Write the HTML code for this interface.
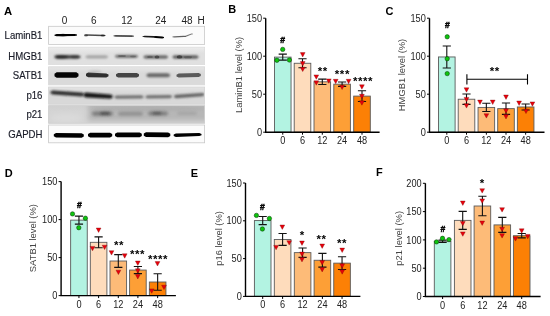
<!DOCTYPE html>
<html><head><meta charset="utf-8"><title>Figure</title>
<style>html,body{margin:0;padding:0;background:#fff;width:550px;height:316px;overflow:hidden}svg{display:block}</style>
</head><body>
<svg width="550" height="316" viewBox="0 0 550 316" font-family='&quot;Liberation Sans&quot;, Arial, sans-serif'>
<defs><linearGradient id="g0" x1="0" y1="0" x2="0" y2="1"><stop offset="0" stop-color="#fbfbfb"/><stop offset="0.35" stop-color="#fbfbfb"/><stop offset="1" stop-color="#fbfbfb"/></linearGradient><linearGradient id="g1" x1="0" y1="0" x2="0" y2="1"><stop offset="0" stop-color="#ececec"/><stop offset="0.35" stop-color="#e0e0e0"/><stop offset="1" stop-color="#e0e0e0"/></linearGradient><linearGradient id="g2" x1="0" y1="0" x2="0" y2="1"><stop offset="0" stop-color="#e6e6e6"/><stop offset="0.35" stop-color="#dadada"/><stop offset="1" stop-color="#dadada"/></linearGradient><linearGradient id="g3" x1="0" y1="0" x2="0" y2="1"><stop offset="0" stop-color="#e4e4e4"/><stop offset="0.35" stop-color="#d8d8d8"/><stop offset="1" stop-color="#d8d8d8"/></linearGradient><linearGradient id="g4" x1="0" y1="0" x2="0" y2="1"><stop offset="0" stop-color="#d0d0d0"/><stop offset="0.35" stop-color="#d4d4d4"/><stop offset="1" stop-color="#d4d4d4"/></linearGradient><linearGradient id="g5" x1="0" y1="0" x2="0" y2="1"><stop offset="0" stop-color="#fbfbfb"/><stop offset="0.35" stop-color="#fbfbfb"/><stop offset="1" stop-color="#fbfbfb"/></linearGradient><filter id="b0_5" filterUnits="userSpaceOnUse" x="0" y="0" width="550" height="316"><feGaussianBlur stdDeviation="0.5"/></filter><filter id="b0_55" filterUnits="userSpaceOnUse" x="0" y="0" width="550" height="316"><feGaussianBlur stdDeviation="0.55"/></filter><filter id="b0_6" filterUnits="userSpaceOnUse" x="0" y="0" width="550" height="316"><feGaussianBlur stdDeviation="0.6"/></filter><filter id="b0_8" filterUnits="userSpaceOnUse" x="0" y="0" width="550" height="316"><feGaussianBlur stdDeviation="0.8"/></filter><filter id="b0_9" filterUnits="userSpaceOnUse" x="0" y="0" width="550" height="316"><feGaussianBlur stdDeviation="0.9"/></filter><filter id="b1_0" filterUnits="userSpaceOnUse" x="0" y="0" width="550" height="316"><feGaussianBlur stdDeviation="1.0"/></filter><filter id="b1_6" filterUnits="userSpaceOnUse" x="0" y="0" width="550" height="316"><feGaussianBlur stdDeviation="1.6"/></filter><filter id="b2_5" filterUnits="userSpaceOnUse" x="0" y="0" width="550" height="316"><feGaussianBlur stdDeviation="2.5"/></filter><clipPath id="pc0"><rect x="49" y="26.7" width="155.2" height="17.3"/></clipPath><clipPath id="pc1"><rect x="49" y="47.6" width="155.2" height="16.6"/></clipPath><clipPath id="pc2"><rect x="49" y="67.2" width="155.2" height="17.3"/></clipPath><clipPath id="pc3"><rect x="49" y="87.4" width="155.2" height="16.5"/></clipPath><clipPath id="pc4"><rect x="49" y="106" width="155.2" height="16.9"/></clipPath><clipPath id="pc5"><rect x="49" y="125.4" width="155.2" height="17"/></clipPath></defs>
<rect width="550" height="316" fill="#fff"/>
<text transform="translate(3.9 14.9) scale(1.13 1.03)" font-size="10" font-weight="bold" fill="#000">A</text>
<rect x="48.6" y="26.3" width="156" height="18.1" fill="url(#g0)" stroke="#c8c8c8" stroke-width="0.8"/>
<text transform="translate(42.4 38.95) scale(1 1.1)" text-anchor="end" font-size="9.6" fill="#1a1c28" stroke="#1a1c28" stroke-width="0.15">LaminB1</text>
<rect x="48.6" y="47.2" width="156" height="17.4" fill="url(#g1)" stroke="#dcdcdc" stroke-width="0.8"/>
<text transform="translate(42.4 59.5) scale(1 1.1)" text-anchor="end" font-size="9.6" fill="#1a1c28" stroke="#1a1c28" stroke-width="0.15">HMGB1</text>
<rect x="48.6" y="66.8" width="156" height="18.1" fill="url(#g2)" stroke="#d8d8d8" stroke-width="0.8"/>
<text transform="translate(42.4 79.45) scale(1 1.1)" text-anchor="end" font-size="9.6" fill="#1a1c28" stroke="#1a1c28" stroke-width="0.15">SATB1</text>
<rect x="48.6" y="87" width="156" height="17.3" fill="url(#g3)" stroke="#d4d4d4" stroke-width="0.8"/>
<text transform="translate(42.4 99.25) scale(1 1.1)" text-anchor="end" font-size="9.6" fill="#1a1c28" stroke="#1a1c28" stroke-width="0.15">p16</text>
<rect x="48.6" y="105.6" width="156" height="17.7" fill="url(#g4)" stroke="#cccccc" stroke-width="0.8"/>
<text transform="translate(42.4 118.05) scale(1 1.1)" text-anchor="end" font-size="9.6" fill="#1a1c28" stroke="#1a1c28" stroke-width="0.15">p21</text>
<rect x="48.6" y="125" width="156" height="17.8" fill="url(#g5)" stroke="#c8c8c8" stroke-width="0.8"/>
<text transform="translate(42.4 137.5) scale(1 1.1)" text-anchor="end" font-size="9.6" fill="#1a1c28" stroke="#1a1c28" stroke-width="0.15">GAPDH</text>
<g clip-path="url(#pc0)">
<path d="M54.5 34.71 L56.7 34.1 L74.8 34 L77 34.55 L77 35.45 L74.8 36 L56.7 36.3 L54.5 35.7Z" fill="#000" fill-opacity="1" filter="url(#b0_5)"/>
<ellipse cx="63" cy="35.1" rx="6" ry="1.3" fill="#000" fill-opacity="0.6" filter="url(#b0_5)"/>
<path d="M84.5 34.62 L86.7 34.15 L103.3 34.7 L105.5 35.14 L105.5 35.86 L103.3 36.3 L86.7 35.85 L84.5 35.38Z" fill="#2a2a2a" fill-opacity="0.85" filter="url(#b0_5)"/>
<ellipse cx="86" cy="35.4" rx="2" ry="1" fill="#000" fill-opacity="0.5" filter="url(#b0_5)"/>
<ellipse cx="103" cy="35.6" rx="2.5" ry="1" fill="#000" fill-opacity="0.5" filter="url(#b0_5)"/>
<path d="M113.5 35.42 L115.7 34.95 L131.8 35.35 L134 35.82 L134 36.58 L131.8 37.05 L115.7 36.65 L113.5 36.18Z" fill="#2a2a2a" fill-opacity="0.85" filter="url(#b0_5)"/>
<path d="M142.5 36.14 L144.7 35.7 L153.8 36 L156 36.49 L156 37.3 L153.8 37.8 L144.7 37.3 L142.5 36.86Z" fill="#111" fill-opacity="0.95" filter="url(#b0_5)"/>
<path d="M154 36.51 L155.67 35.9 L162.33 36.5 L164 37.05 L164 37.95 L162.33 38.5 L155.67 38.1 L154 37.49Z" fill="#000" fill-opacity="1" filter="url(#b0_5)"/>
<path d="M172.5 36.61 L174.7 36.25 L183.8 35.65 L186 36.01 L186 36.59 L183.8 36.95 L174.7 37.55 L172.5 37.19Z" fill="#3a3a3a" fill-opacity="0.8" filter="url(#b0_5)"/>
<path d="M184 36.13 L185.5 35.8 L191.5 33.5 L193 33.77 L193 34.23 L191.5 34.5 L185.5 37 L184 36.67Z" fill="#4a4a4a" fill-opacity="0.75" filter="url(#b0_5)"/>
</g>
<g clip-path="url(#pc1)">
<path d="M54.5 56.05 L56.7 55 L78.3 55.2 L80.5 56.13 L80.5 57.66 L78.3 58.6 L56.7 58.8 L54.5 57.75Z" fill="#2a2a2a" fill-opacity="0.88" filter="url(#b0_8)"/>
<ellipse cx="62" cy="57" rx="6" ry="1.5" fill="#000" fill-opacity="0.45" filter="url(#b0_8)"/>
<ellipse cx="75" cy="57" rx="4" ry="1.4" fill="#111" fill-opacity="0.3" filter="url(#b0_8)"/>
<path d="M85.5 56.18 L87.7 55.3 L105.8 55.3 L108 56.18 L108 57.62 L105.8 58.5 L87.7 58.5 L85.5 57.62Z" fill="#8c8c8c" fill-opacity="0.7" filter="url(#b0_9)"/>
<path d="M115 55.58 L117.2 54.7 L135.8 54.7 L138 55.58 L138 57.02 L135.8 57.9 L117.2 57.9 L115 57.02Z" fill="#5a5a5a" fill-opacity="0.8" filter="url(#b0_9)"/>
<ellipse cx="122" cy="55.9" rx="4" ry="1" fill="#333" fill-opacity="0.4" filter="url(#b0_6)"/>
<ellipse cx="133" cy="56.5" rx="3" ry="1" fill="#333" fill-opacity="0.3" filter="url(#b0_6)"/>
<path d="M143.5 56.23 L145.7 55.3 L165.8 55.3 L168 56.23 L168 57.77 L165.8 58.7 L145.7 58.7 L143.5 57.77Z" fill="#505050" fill-opacity="0.82" filter="url(#b0_9)"/>
<ellipse cx="157" cy="56.9" rx="2.4" ry="1.5" fill="#111" fill-opacity="0.5" filter="url(#b0_6)"/>
<ellipse cx="150" cy="56.9" rx="3" ry="1.2" fill="#222" fill-opacity="0.3" filter="url(#b0_6)"/>
<path d="M172.5 56.19 L174.7 55.2 L196.3 55.2 L198.5 56.19 L198.5 57.81 L196.3 58.8 L174.7 58.8 L172.5 57.81Z" fill="#444" fill-opacity="0.82" filter="url(#b0_9)"/>
<ellipse cx="179.5" cy="56.9" rx="2.8" ry="1.7" fill="#111" fill-opacity="0.55" filter="url(#b0_6)"/>
<ellipse cx="188" cy="57.2" rx="4" ry="1.3" fill="#222" fill-opacity="0.3" filter="url(#b0_6)"/>
</g>
<g clip-path="url(#pc2)">
<path d="M54.5 73.74 L56.7 72.2 L76.3 72.2 L78.5 73.74 L78.5 76.26 L76.3 77.8 L56.7 77.8 L54.5 76.26Z" fill="#050505" fill-opacity="1" filter="url(#b0_85)"/>
<path d="M86 73.87 L88.2 72.6 L106.3 73.4 L108.5 74.5 L108.5 76.3 L106.3 77.4 L88.2 77.2 L86 75.94Z" fill="#1c1c1c" fill-opacity="0.9" filter="url(#b0_85)"/>
<ellipse cx="95" cy="71.8" rx="7" ry="1.3" fill="#777" fill-opacity="0.35" filter="url(#b1_0)"/>
<path d="M116 74.21 L118.2 73 L136.8 73 L139 74.21 L139 76.19 L136.8 77.4 L118.2 77.4 L116 76.19Z" fill="#303030" fill-opacity="0.88" filter="url(#b0_85)"/>
<path d="M146.5 74.4 L148.7 73.3 L167.8 73.3 L170 74.4 L170 76.2 L167.8 77.3 L148.7 77.3 L146.5 76.2Z" fill="#4e4e4e" fill-opacity="0.82" filter="url(#b0_9)"/>
<path d="M176.5 74.7 L178.7 73.6 L198.6 73 L200.8 74.1 L200.8 75.9 L198.6 77 L178.7 77.6 L176.5 76.5Z" fill="#444" fill-opacity="0.85" filter="url(#b0_85)"/>
</g>
<g clip-path="url(#pc3)">
<path d="M50.5 91.5 L52.7 90.4 L81.8 92.6 L84 93.64 L84 95.36 L81.8 96.4 L52.7 94.4 L50.5 93.3Z" fill="#1e1e1e" fill-opacity="0.9" filter="url(#b0_8)"/>
<path d="M83.5 93.92 L85.7 92.6 L110.5 94.4 L112.7 95.61 L112.7 97.59 L110.5 98.8 L85.7 97.4 L83.5 96.08Z" fill="#111" fill-opacity="0.95" filter="url(#b0_8)"/>
<path d="M114.5 96.33 L116.7 95.4 L141.3 95.2 L143.5 96.14 L143.5 97.67 L141.3 98.6 L116.7 98.8 L114.5 97.86Z" fill="#555" fill-opacity="0.8" filter="url(#b0_9)"/>
<path d="M145.5 96.14 L147.7 95.2 L169.8 94.9 L172 95.83 L172 97.36 L169.8 98.3 L147.7 98.6 L145.5 97.67Z" fill="#555" fill-opacity="0.8" filter="url(#b0_9)"/>
<path d="M174 95.73 L176.2 94.8 L202.3 92.9 L204.5 93.83 L204.5 95.36 L202.3 96.3 L176.2 98.2 L174 97.27Z" fill="#4a4a4a" fill-opacity="0.82" filter="url(#b0_9)"/>
</g>
<g clip-path="url(#pc4)">
<rect x="88" y="103" width="122" height="18" fill="#a4a4a4" fill-opacity="0.6" filter="url(#b2_5)"/>
<ellipse cx="66" cy="118" rx="16" ry="4" fill="#e8e8e8" fill-opacity="0.35" filter="url(#b2_5)"/>
<ellipse cx="150" cy="108.5" rx="55" ry="3" fill="#a0a0a0" fill-opacity="0.3" filter="url(#b1_6)"/>
<path d="M92 112.61 L94.2 111.4 L110.8 111.4 L113 112.61 L113 114.59 L110.8 115.8 L94.2 115.8 L92 114.59Z" fill="#5a5a5a" fill-opacity="0.65" filter="url(#b1_6)"/>
<ellipse cx="105" cy="113.4" rx="5" ry="1.8" fill="#333" fill-opacity="0.5" filter="url(#b1_0)"/>
<path d="M118 112.9 L120.2 111.8 L140.8 111.8 L143 112.9 L143 114.7 L140.8 115.8 L120.2 115.8 L118 114.7Z" fill="#6a6a6a" fill-opacity="0.5" filter="url(#b1_6)"/>
<path d="M148 112.56 L150.2 111.4 L165.8 111.4 L168 112.56 L168 114.44 L165.8 115.6 L150.2 115.6 L148 114.44Z" fill="#555" fill-opacity="0.6" filter="url(#b1_6)"/>
<ellipse cx="157" cy="113.2" rx="4.5" ry="1.6" fill="#333" fill-opacity="0.45" filter="url(#b1_0)"/>
<path d="M177 112.64 L179.2 111.7 L194.8 111.7 L197 112.64 L197 114.17 L194.8 115.1 L179.2 115.1 L177 114.17Z" fill="#888" fill-opacity="0.4" filter="url(#b1_6)"/>
</g>
<g clip-path="url(#pc5)">
<path d="M53.8 134.27 L56 133 L81.6 133.3 L83.8 134.51 L83.8 136.49 L81.6 137.7 L56 137.6 L53.8 136.34Z" fill="#000" fill-opacity="1" filter="url(#b0_55)"/>
<path d="M88 134.02 L90.2 132.7 L110 132.7 L112.2 134.02 L112.2 136.18 L110 137.5 L90.2 137.5 L88 136.18Z" fill="#000" fill-opacity="1" filter="url(#b0_55)"/>
<path d="M115 133.87 L117.2 132.6 L139.6 132.6 L141.8 133.87 L141.8 135.94 L139.6 137.2 L117.2 137.2 L115 135.94Z" fill="#000" fill-opacity="1" filter="url(#b0_55)"/>
<path d="M143.8 133.52 L146 132.2 L168.1 132.6 L170.3 133.87 L170.3 135.94 L168.1 137.2 L146 137 L143.8 135.68Z" fill="#000" fill-opacity="1" filter="url(#b0_55)"/>
<path d="M173.7 134.49 L175.9 133.5 L199.3 133.1 L201.5 133.92 L201.5 135.28 L199.3 136.1 L175.9 137.1 L173.7 136.11Z" fill="#050505" fill-opacity="1" filter="url(#b0_55)"/>
</g>
<text x="64.6" y="23.6" text-anchor="middle" font-size="10" fill="#222">0</text>
<text x="93.8" y="23.6" text-anchor="middle" font-size="10" fill="#222">6</text>
<text x="126.7" y="23.6" text-anchor="middle" font-size="10" fill="#222">12</text>
<text x="160.7" y="23.6" text-anchor="middle" font-size="10" fill="#222">24</text>
<text x="187" y="23.6" text-anchor="middle" font-size="10" fill="#222">48</text>
<text x="201" y="23.6" text-anchor="middle" font-size="10" fill="#222">H</text>
<rect x="274.45" y="57.11" width="16.6" height="75.09" fill="#b3f3e2" stroke="#5a5a5a" stroke-width="0.9"/>
<rect x="294.2" y="63.27" width="16.6" height="68.93" fill="#fedcbc" stroke="#5a5a5a" stroke-width="0.9"/>
<rect x="314" y="81.81" width="16.6" height="50.39" fill="#fdbb78" stroke="#5a5a5a" stroke-width="0.9"/>
<rect x="333.8" y="84.17" width="16.6" height="48.03" fill="#fd9f36" stroke="#5a5a5a" stroke-width="0.9"/>
<rect x="353.7" y="96.1" width="16.6" height="36.1" fill="#fc8005" stroke="#5a5a5a" stroke-width="0.9"/>
<path d="M282.75 54.11V60.11M278.65 54.11H286.85M278.65 60.11H286.85" stroke="#111" stroke-width="1.1" fill="none"/>
<path d="M302.5 58.77V67.77M298.4 58.77H306.6M298.4 67.77H306.6" stroke="#111" stroke-width="1.1" fill="none"/>
<path d="M322.3 79.11V84.51M318.2 79.11H326.4M318.2 84.51H326.4" stroke="#111" stroke-width="1.1" fill="none"/>
<path d="M342.1 81.97V86.37M338 81.97H346.2M338 86.37H346.2" stroke="#111" stroke-width="1.1" fill="none"/>
<path d="M362 90.7V101.5M357.9 90.7H366.1M357.9 101.5H366.1" stroke="#111" stroke-width="1.1" fill="none"/>
<circle cx="282.7" cy="49.4" r="2.2" fill="#0ec40e" stroke="#043004" stroke-width="0.5"/>
<circle cx="276.9" cy="60.3" r="2.2" fill="#0ec40e" stroke="#043004" stroke-width="0.5"/>
<circle cx="289.4" cy="60" r="2.2" fill="#0ec40e" stroke="#043004" stroke-width="0.5"/>
<path d="M300.3 52.6L305.1 52.6L302.7 57Z" fill="#e8000b" stroke="#7a0000" stroke-width="0.35"/>
<path d="M300.3 61.6L305.1 61.6L302.7 66Z" fill="#e8000b" stroke="#7a0000" stroke-width="0.35"/>
<path d="M300.3 67.2L305.1 67.2L302.7 71.6Z" fill="#e8000b" stroke="#7a0000" stroke-width="0.35"/>
<path d="M313.9 74.9L318.7 74.9L316.3 79.3Z" fill="#e8000b" stroke="#7a0000" stroke-width="0.35"/>
<path d="M313.9 80.8L318.7 80.8L316.3 85.2Z" fill="#e8000b" stroke="#7a0000" stroke-width="0.35"/>
<path d="M326.4 78.9L331.2 78.9L328.8 83.3Z" fill="#e8000b" stroke="#7a0000" stroke-width="0.35"/>
<path d="M333.3 79.3L338.1 79.3L335.7 83.7Z" fill="#e8000b" stroke="#7a0000" stroke-width="0.35"/>
<path d="M346.2 79.3L351 79.3L348.6 83.7Z" fill="#e8000b" stroke="#7a0000" stroke-width="0.35"/>
<path d="M339.7 85.2L344.5 85.2L342.1 89.6Z" fill="#e8000b" stroke="#7a0000" stroke-width="0.35"/>
<path d="M359.5 84.8L364.3 84.8L361.9 89.2Z" fill="#e8000b" stroke="#7a0000" stroke-width="0.35"/>
<path d="M359.5 94.3L364.3 94.3L361.9 98.7Z" fill="#e8000b" stroke="#7a0000" stroke-width="0.35"/>
<path d="M359.5 100.8L364.3 100.8L361.9 105.2Z" fill="#e8000b" stroke="#7a0000" stroke-width="0.35"/>
<path d="M265.7 18.2V132.2H379.6" stroke="#000" stroke-width="1.4" fill="none"/>
<path d="M263.2 132.2H265.7" stroke="#000" stroke-width="1"/>
<text transform="translate(262 135.8) scale(1 1.22)" text-anchor="end" font-size="9.2" fill="#222">0</text>
<path d="M263.2 94.2H265.7" stroke="#000" stroke-width="1"/>
<text transform="translate(262 97.8) scale(1 1.22)" text-anchor="end" font-size="9.2" fill="#222">50</text>
<path d="M263.2 56.2H265.7" stroke="#000" stroke-width="1"/>
<text transform="translate(262 59.8) scale(1 1.22)" text-anchor="end" font-size="9.2" fill="#222">100</text>
<path d="M263.2 18.2H265.7" stroke="#000" stroke-width="1"/>
<text transform="translate(262 21.8) scale(1 1.22)" text-anchor="end" font-size="9.2" fill="#222">150</text>
<path d="M282.75 132.2V134.7" stroke="#000" stroke-width="1"/>
<text transform="translate(282.75 143.9) scale(1 1.22)" text-anchor="middle" font-size="9.2" fill="#222">0</text>
<path d="M302.5 132.2V134.7" stroke="#000" stroke-width="1"/>
<text transform="translate(302.5 143.9) scale(1 1.22)" text-anchor="middle" font-size="9.2" fill="#222">6</text>
<path d="M322.3 132.2V134.7" stroke="#000" stroke-width="1"/>
<text transform="translate(322.3 143.9) scale(1 1.22)" text-anchor="middle" font-size="9.2" fill="#222">12</text>
<path d="M342.1 132.2V134.7" stroke="#000" stroke-width="1"/>
<text transform="translate(342.1 143.9) scale(1 1.22)" text-anchor="middle" font-size="9.2" fill="#222">24</text>
<path d="M362 132.2V134.7" stroke="#000" stroke-width="1"/>
<text transform="translate(362 143.9) scale(1 1.22)" text-anchor="middle" font-size="9.2" fill="#222">48</text>
<text transform="translate(241.6 74.9) rotate(-90)" text-anchor="middle" font-size="9.4" fill="#444">LaminB1 level (%)</text>
<text transform="translate(228.2 13.2) scale(1.1 1.03)" font-size="10" font-weight="bold" fill="#000">B</text>
<text transform="translate(282.7 43) scale(1 1.15)" text-anchor="middle" font-size="8.6" font-weight="bold" fill="#000" stroke="#000" stroke-width="0.45">#</text>
<text x="322.77" y="74.6" text-anchor="middle" font-size="11.5" font-weight="bold" letter-spacing="0.55" fill="#000">**</text>
<text x="342.37" y="77.9" text-anchor="middle" font-size="11.5" font-weight="bold" letter-spacing="0.55" fill="#000">***</text>
<text x="363.07" y="84.7" text-anchor="middle" font-size="11.5" font-weight="bold" letter-spacing="0.55" fill="#000">****</text>
<rect x="438.5" y="56.96" width="16.6" height="75.24" fill="#b3f3e2" stroke="#5a5a5a" stroke-width="0.9"/>
<rect x="458.2" y="99.22" width="16.6" height="32.98" fill="#fedcbc" stroke="#5a5a5a" stroke-width="0.9"/>
<rect x="478.05" y="107.42" width="16.6" height="24.78" fill="#fdbb78" stroke="#5a5a5a" stroke-width="0.9"/>
<rect x="497.7" y="108.64" width="16.6" height="23.56" fill="#fd9f36" stroke="#5a5a5a" stroke-width="0.9"/>
<rect x="517.35" y="106.97" width="16.6" height="25.23" fill="#fc8005" stroke="#5a5a5a" stroke-width="0.9"/>
<path d="M446.8 45.96V67.96M442.7 45.96H450.9M442.7 67.96H450.9" stroke="#111" stroke-width="1.1" fill="none"/>
<path d="M466.5 94.02V104.42M462.4 94.02H470.6M462.4 104.42H470.6" stroke="#111" stroke-width="1.1" fill="none"/>
<path d="M486.35 103.32V111.52M482.25 103.32H490.45M482.25 111.52H490.45" stroke="#111" stroke-width="1.1" fill="none"/>
<path d="M506 102.94V114.34M501.9 102.94H510.1M501.9 114.34H510.1" stroke="#111" stroke-width="1.1" fill="none"/>
<path d="M525.65 103.97V109.97M521.55 103.97H529.75M521.55 109.97H529.75" stroke="#111" stroke-width="1.1" fill="none"/>
<circle cx="447.2" cy="36.8" r="2.2" fill="#0ec40e" stroke="#043004" stroke-width="0.5"/>
<circle cx="447.2" cy="58.7" r="2.2" fill="#0ec40e" stroke="#043004" stroke-width="0.5"/>
<circle cx="447.2" cy="73.6" r="2.2" fill="#0ec40e" stroke="#043004" stroke-width="0.5"/>
<path d="M464.1 87.8L468.9 87.8L466.5 92.2Z" fill="#e8000b" stroke="#7a0000" stroke-width="0.35"/>
<path d="M464.1 97.4L468.9 97.4L466.5 101.8Z" fill="#e8000b" stroke="#7a0000" stroke-width="0.35"/>
<path d="M464.1 103.7L468.9 103.7L466.5 108.1Z" fill="#e8000b" stroke="#7a0000" stroke-width="0.35"/>
<path d="M477.6 100.1L482.4 100.1L480 104.5Z" fill="#e8000b" stroke="#7a0000" stroke-width="0.35"/>
<path d="M490.3 100.1L495.1 100.1L492.7 104.5Z" fill="#e8000b" stroke="#7a0000" stroke-width="0.35"/>
<path d="M484 113.7L488.8 113.7L486.4 118.1Z" fill="#e8000b" stroke="#7a0000" stroke-width="0.35"/>
<path d="M503.6 95L508.4 95L506 99.4Z" fill="#e8000b" stroke="#7a0000" stroke-width="0.35"/>
<path d="M503.6 108.8L508.4 108.8L506 113.2Z" fill="#e8000b" stroke="#7a0000" stroke-width="0.35"/>
<path d="M503.6 114.6L508.4 114.6L506 119Z" fill="#e8000b" stroke="#7a0000" stroke-width="0.35"/>
<path d="M516.7 101L521.5 101L519.1 105.4Z" fill="#e8000b" stroke="#7a0000" stroke-width="0.35"/>
<path d="M530 101.9L534.8 101.9L532.4 106.3Z" fill="#e8000b" stroke="#7a0000" stroke-width="0.35"/>
<path d="M523.6 109.2L528.4 109.2L526 113.6Z" fill="#e8000b" stroke="#7a0000" stroke-width="0.35"/>
<path d="M429.5 18.2V132.2H544.5" stroke="#000" stroke-width="1.4" fill="none"/>
<path d="M427 132.2H429.5" stroke="#000" stroke-width="1"/>
<text transform="translate(425.8 135.8) scale(1 1.22)" text-anchor="end" font-size="9.2" fill="#222">0</text>
<path d="M427 94.2H429.5" stroke="#000" stroke-width="1"/>
<text transform="translate(425.8 97.8) scale(1 1.22)" text-anchor="end" font-size="9.2" fill="#222">50</text>
<path d="M427 56.2H429.5" stroke="#000" stroke-width="1"/>
<text transform="translate(425.8 59.8) scale(1 1.22)" text-anchor="end" font-size="9.2" fill="#222">100</text>
<path d="M427 18.2H429.5" stroke="#000" stroke-width="1"/>
<text transform="translate(425.8 21.8) scale(1 1.22)" text-anchor="end" font-size="9.2" fill="#222">150</text>
<path d="M446.8 132.2V134.7" stroke="#000" stroke-width="1"/>
<text transform="translate(446.8 143.9) scale(1 1.22)" text-anchor="middle" font-size="9.2" fill="#222">0</text>
<path d="M466.5 132.2V134.7" stroke="#000" stroke-width="1"/>
<text transform="translate(466.5 143.9) scale(1 1.22)" text-anchor="middle" font-size="9.2" fill="#222">6</text>
<path d="M486.35 132.2V134.7" stroke="#000" stroke-width="1"/>
<text transform="translate(486.35 143.9) scale(1 1.22)" text-anchor="middle" font-size="9.2" fill="#222">12</text>
<path d="M506 132.2V134.7" stroke="#000" stroke-width="1"/>
<text transform="translate(506 143.9) scale(1 1.22)" text-anchor="middle" font-size="9.2" fill="#222">24</text>
<path d="M525.65 132.2V134.7" stroke="#000" stroke-width="1"/>
<text transform="translate(525.65 143.9) scale(1 1.22)" text-anchor="middle" font-size="9.2" fill="#222">48</text>
<text transform="translate(405.4 75) rotate(-90)" text-anchor="middle" font-size="9.4" fill="#444">HMGB1 level (%)</text>
<text transform="translate(385.5 14.7) scale(1.1 1.03)" font-size="10" font-weight="bold" fill="#000">C</text>
<text transform="translate(447.3 27.5) scale(1 1.15)" text-anchor="middle" font-size="8.6" font-weight="bold" fill="#000" stroke="#000" stroke-width="0.45">#</text>
<text x="494.67" y="75.1" text-anchor="middle" font-size="11.5" font-weight="bold" letter-spacing="0.55" fill="#000">**</text>
<path d="M466.9 74.2V84.5M466.9 79.3H527.5M527.5 74.2V84.5" stroke="#000" stroke-width="1.1" fill="none"/>
<rect x="70.65" y="220.13" width="16.6" height="75.47" fill="#b3f3e2" stroke="#5a5a5a" stroke-width="0.9"/>
<rect x="90.3" y="242.32" width="16.6" height="53.28" fill="#fedcbc" stroke="#5a5a5a" stroke-width="0.9"/>
<rect x="110" y="261.02" width="16.6" height="34.58" fill="#fdbb78" stroke="#5a5a5a" stroke-width="0.9"/>
<rect x="129.6" y="270.06" width="16.6" height="25.54" fill="#fd9f36" stroke="#5a5a5a" stroke-width="0.9"/>
<rect x="149.35" y="282" width="16.6" height="13.6" fill="#fc8005" stroke="#5a5a5a" stroke-width="0.9"/>
<path d="M78.95 216.13V224.13M74.85 216.13H83.05M74.85 224.13H83.05" stroke="#111" stroke-width="1.1" fill="none"/>
<path d="M98.6 236.92V247.72M94.5 236.92H102.7M94.5 247.72H102.7" stroke="#111" stroke-width="1.1" fill="none"/>
<path d="M118.3 254.62V267.42M114.2 254.62H122.4M114.2 267.42H122.4" stroke="#111" stroke-width="1.1" fill="none"/>
<path d="M137.9 266.46V273.66M133.8 266.46H142M133.8 273.66H142" stroke="#111" stroke-width="1.1" fill="none"/>
<path d="M157.65 273.8V290.2M153.55 273.8H161.75M153.55 290.2H161.75" stroke="#111" stroke-width="1.1" fill="none"/>
<circle cx="72.5" cy="213.9" r="2.2" fill="#0ec40e" stroke="#043004" stroke-width="0.5"/>
<circle cx="85.4" cy="218.2" r="2.2" fill="#0ec40e" stroke="#043004" stroke-width="0.5"/>
<circle cx="78.8" cy="227.7" r="2.2" fill="#0ec40e" stroke="#043004" stroke-width="0.5"/>
<path d="M96.2 228L101 228L98.6 232.4Z" fill="#e8000b" stroke="#7a0000" stroke-width="0.35"/>
<path d="M90.1 246.4L94.9 246.4L92.5 250.8Z" fill="#e8000b" stroke="#7a0000" stroke-width="0.35"/>
<path d="M102.2 245.2L107 245.2L104.6 249.6Z" fill="#e8000b" stroke="#7a0000" stroke-width="0.35"/>
<path d="M109.1 250.7L113.9 250.7L111.5 255.1Z" fill="#e8000b" stroke="#7a0000" stroke-width="0.35"/>
<path d="M122.3 253.8L127.1 253.8L124.7 258.2Z" fill="#e8000b" stroke="#7a0000" stroke-width="0.35"/>
<path d="M116 270.2L120.8 270.2L118.4 274.6Z" fill="#e8000b" stroke="#7a0000" stroke-width="0.35"/>
<path d="M135.4 261L140.2 261L137.8 265.4Z" fill="#e8000b" stroke="#7a0000" stroke-width="0.35"/>
<path d="M135.4 268.8L140.2 268.8L137.8 273.2Z" fill="#e8000b" stroke="#7a0000" stroke-width="0.35"/>
<path d="M135.4 274.6L140.2 274.6L137.8 279Z" fill="#e8000b" stroke="#7a0000" stroke-width="0.35"/>
<path d="M155.1 261.6L159.9 261.6L157.5 266Z" fill="#e8000b" stroke="#7a0000" stroke-width="0.35"/>
<path d="M149.3 288.9L154.1 288.9L151.7 293.3Z" fill="#e8000b" stroke="#7a0000" stroke-width="0.35"/>
<path d="M161.6 285.2L166.4 285.2L164 289.6Z" fill="#e8000b" stroke="#7a0000" stroke-width="0.35"/>
<path d="M61.1 181.6V295.6H175.9" stroke="#000" stroke-width="1.4" fill="none"/>
<path d="M58.6 295.6H61.1" stroke="#000" stroke-width="1"/>
<text transform="translate(57.4 299.2) scale(1 1.22)" text-anchor="end" font-size="9.2" fill="#222">0</text>
<path d="M58.6 257.6H61.1" stroke="#000" stroke-width="1"/>
<text transform="translate(57.4 261.2) scale(1 1.22)" text-anchor="end" font-size="9.2" fill="#222">50</text>
<path d="M58.6 219.6H61.1" stroke="#000" stroke-width="1"/>
<text transform="translate(57.4 223.2) scale(1 1.22)" text-anchor="end" font-size="9.2" fill="#222">100</text>
<path d="M58.6 181.6H61.1" stroke="#000" stroke-width="1"/>
<text transform="translate(57.4 185.2) scale(1 1.22)" text-anchor="end" font-size="9.2" fill="#222">150</text>
<path d="M78.95 295.6V298.1" stroke="#000" stroke-width="1"/>
<text transform="translate(78.95 307.8) scale(1 1.22)" text-anchor="middle" font-size="9.2" fill="#222">0</text>
<path d="M98.6 295.6V298.1" stroke="#000" stroke-width="1"/>
<text transform="translate(98.6 307.8) scale(1 1.22)" text-anchor="middle" font-size="9.2" fill="#222">6</text>
<path d="M118.3 295.6V298.1" stroke="#000" stroke-width="1"/>
<text transform="translate(118.3 307.8) scale(1 1.22)" text-anchor="middle" font-size="9.2" fill="#222">12</text>
<path d="M137.9 295.6V298.1" stroke="#000" stroke-width="1"/>
<text transform="translate(137.9 307.8) scale(1 1.22)" text-anchor="middle" font-size="9.2" fill="#222">24</text>
<path d="M157.65 295.6V298.1" stroke="#000" stroke-width="1"/>
<text transform="translate(157.65 307.8) scale(1 1.22)" text-anchor="middle" font-size="9.2" fill="#222">48</text>
<text transform="translate(36.2 238.1) rotate(-90)" text-anchor="middle" font-size="9.4" fill="#444">SATB1 level (%)</text>
<text transform="translate(4.7 176.8) scale(1.1 1.03)" font-size="10" font-weight="bold" fill="#000">D</text>
<text transform="translate(79.3 208.3) scale(1 1.15)" text-anchor="middle" font-size="8.6" font-weight="bold" fill="#000" stroke="#000" stroke-width="0.45">#</text>
<text x="119.07" y="249.3" text-anchor="middle" font-size="11.5" font-weight="bold" letter-spacing="0.55" fill="#000">**</text>
<text x="137.47" y="258.1" text-anchor="middle" font-size="11.5" font-weight="bold" letter-spacing="0.55" fill="#000">***</text>
<text x="158.07" y="263.1" text-anchor="middle" font-size="11.5" font-weight="bold" letter-spacing="0.55" fill="#000">****</text>
<rect x="254.4" y="220.57" width="16.6" height="75.83" fill="#b3f3e2" stroke="#5a5a5a" stroke-width="0.9"/>
<rect x="274.3" y="239.47" width="16.6" height="56.93" fill="#fedcbc" stroke="#5a5a5a" stroke-width="0.9"/>
<rect x="294.3" y="252.63" width="16.6" height="43.77" fill="#fdbb78" stroke="#5a5a5a" stroke-width="0.9"/>
<rect x="314.1" y="260.26" width="16.6" height="36.14" fill="#fd9f36" stroke="#5a5a5a" stroke-width="0.9"/>
<rect x="333.75" y="263.14" width="16.6" height="33.26" fill="#fc8005" stroke="#5a5a5a" stroke-width="0.9"/>
<path d="M262.7 216.47V224.67M258.6 216.47H266.8M258.6 224.67H266.8" stroke="#111" stroke-width="1.1" fill="none"/>
<path d="M282.6 233.57V245.37M278.5 233.57H286.7M278.5 245.37H286.7" stroke="#111" stroke-width="1.1" fill="none"/>
<path d="M302.6 247.93V257.33M298.5 247.93H306.7M298.5 257.33H306.7" stroke="#111" stroke-width="1.1" fill="none"/>
<path d="M322.4 253.36V267.16M318.3 253.36H326.5M318.3 267.16H326.5" stroke="#111" stroke-width="1.1" fill="none"/>
<path d="M342.05 256.74V269.54M337.95 256.74H346.15M337.95 269.54H346.15" stroke="#111" stroke-width="1.1" fill="none"/>
<circle cx="256.4" cy="215.4" r="2.2" fill="#0ec40e" stroke="#043004" stroke-width="0.5"/>
<circle cx="269.4" cy="218.5" r="2.2" fill="#0ec40e" stroke="#043004" stroke-width="0.5"/>
<circle cx="262.4" cy="229" r="2.2" fill="#0ec40e" stroke="#043004" stroke-width="0.5"/>
<path d="M279.9 225L284.7 225L282.3 229.4Z" fill="#e8000b" stroke="#7a0000" stroke-width="0.35"/>
<path d="M273.7 245.4L278.5 245.4L276.1 249.8Z" fill="#e8000b" stroke="#7a0000" stroke-width="0.35"/>
<path d="M286.8 240.7L291.6 240.7L289.2 245.1Z" fill="#e8000b" stroke="#7a0000" stroke-width="0.35"/>
<path d="M299.6 241L304.4 241L302 245.4Z" fill="#e8000b" stroke="#7a0000" stroke-width="0.35"/>
<path d="M299.6 252.1L304.4 252.1L302 256.5Z" fill="#e8000b" stroke="#7a0000" stroke-width="0.35"/>
<path d="M299.6 257.5L304.4 257.5L302 261.9Z" fill="#e8000b" stroke="#7a0000" stroke-width="0.35"/>
<path d="M319.8 244L324.6 244L322.2 248.4Z" fill="#e8000b" stroke="#7a0000" stroke-width="0.35"/>
<path d="M319.8 260.5L324.6 260.5L322.2 264.9Z" fill="#e8000b" stroke="#7a0000" stroke-width="0.35"/>
<path d="M319.8 267.5L324.6 267.5L322.2 271.9Z" fill="#e8000b" stroke="#7a0000" stroke-width="0.35"/>
<path d="M339.8 248.1L344.6 248.1L342.2 252.5Z" fill="#e8000b" stroke="#7a0000" stroke-width="0.35"/>
<path d="M339.8 263.8L344.6 263.8L342.2 268.2Z" fill="#e8000b" stroke="#7a0000" stroke-width="0.35"/>
<path d="M339.8 269.8L344.6 269.8L342.2 274.2Z" fill="#e8000b" stroke="#7a0000" stroke-width="0.35"/>
<path d="M245.5 183V296.4H360.4" stroke="#000" stroke-width="1.4" fill="none"/>
<path d="M243 296.4H245.5" stroke="#000" stroke-width="1"/>
<text transform="translate(241.8 300) scale(1 1.22)" text-anchor="end" font-size="9.2" fill="#222">0</text>
<path d="M243 258.6H245.5" stroke="#000" stroke-width="1"/>
<text transform="translate(241.8 262.2) scale(1 1.22)" text-anchor="end" font-size="9.2" fill="#222">50</text>
<path d="M243 220.8H245.5" stroke="#000" stroke-width="1"/>
<text transform="translate(241.8 224.4) scale(1 1.22)" text-anchor="end" font-size="9.2" fill="#222">100</text>
<path d="M243 183H245.5" stroke="#000" stroke-width="1"/>
<text transform="translate(241.8 186.6) scale(1 1.22)" text-anchor="end" font-size="9.2" fill="#222">150</text>
<path d="M262.7 296.4V298.9" stroke="#000" stroke-width="1"/>
<text transform="translate(262.7 308.4) scale(1 1.22)" text-anchor="middle" font-size="9.2" fill="#222">0</text>
<path d="M282.6 296.4V298.9" stroke="#000" stroke-width="1"/>
<text transform="translate(282.6 308.4) scale(1 1.22)" text-anchor="middle" font-size="9.2" fill="#222">6</text>
<path d="M302.6 296.4V298.9" stroke="#000" stroke-width="1"/>
<text transform="translate(302.6 308.4) scale(1 1.22)" text-anchor="middle" font-size="9.2" fill="#222">12</text>
<path d="M322.4 296.4V298.9" stroke="#000" stroke-width="1"/>
<text transform="translate(322.4 308.4) scale(1 1.22)" text-anchor="middle" font-size="9.2" fill="#222">24</text>
<path d="M342.05 296.4V298.9" stroke="#000" stroke-width="1"/>
<text transform="translate(342.05 308.4) scale(1 1.22)" text-anchor="middle" font-size="9.2" fill="#222">48</text>
<text transform="translate(221.8 238.4) rotate(-90)" text-anchor="middle" font-size="9.4" fill="#444">p16 level (%)</text>
<text transform="translate(190.7 177.1) scale(1.1 1.03)" font-size="10" font-weight="bold" fill="#000">E</text>
<text transform="translate(262.3 210) scale(1 1.15)" text-anchor="middle" font-size="8.6" font-weight="bold" fill="#000" stroke="#000" stroke-width="0.45">#</text>
<text x="302.17" y="238.5" text-anchor="middle" font-size="11.5" font-weight="bold" letter-spacing="0.55" fill="#000">*</text>
<text x="321.47" y="242.9" text-anchor="middle" font-size="11.5" font-weight="bold" letter-spacing="0.55" fill="#000">**</text>
<text x="342.07" y="246.5" text-anchor="middle" font-size="11.5" font-weight="bold" letter-spacing="0.55" fill="#000">**</text>
<rect x="434.3" y="241.31" width="16.6" height="55.19" fill="#b3f3e2" stroke="#5a5a5a" stroke-width="0.9"/>
<rect x="454.4" y="220.37" width="16.6" height="76.13" fill="#fedcbc" stroke="#5a5a5a" stroke-width="0.9"/>
<rect x="474.1" y="206" width="16.6" height="90.5" fill="#fdbb78" stroke="#5a5a5a" stroke-width="0.9"/>
<rect x="494" y="224.9" width="16.6" height="71.6" fill="#fd9f36" stroke="#5a5a5a" stroke-width="0.9"/>
<rect x="513.4" y="235.71" width="16.6" height="60.79" fill="#fc8005" stroke="#5a5a5a" stroke-width="0.9"/>
<path d="M442.6 240.12V242.51M438.5 240.12H446.7M438.5 242.51H446.7" stroke="#111" stroke-width="1.1" fill="none"/>
<path d="M462.7 211.37V229.37M458.6 211.37H466.8M458.6 229.37H466.8" stroke="#111" stroke-width="1.1" fill="none"/>
<path d="M482.4 196.2V215.8M478.3 196.2H486.5M478.3 215.8H486.5" stroke="#111" stroke-width="1.1" fill="none"/>
<path d="M502.3 217.4V232.4M498.2 217.4H506.4M498.2 232.4H506.4" stroke="#111" stroke-width="1.1" fill="none"/>
<path d="M521.7 233.51V237.91M517.6 233.51H525.8M517.6 237.91H525.8" stroke="#111" stroke-width="1.1" fill="none"/>
<circle cx="436.5" cy="241.9" r="2.2" fill="#0ec40e" stroke="#043004" stroke-width="0.5"/>
<circle cx="442.5" cy="238.3" r="2.2" fill="#0ec40e" stroke="#043004" stroke-width="0.5"/>
<circle cx="449" cy="239.6" r="2.2" fill="#0ec40e" stroke="#043004" stroke-width="0.5"/>
<path d="M460.4 201L465.2 201L462.8 205.4Z" fill="#e8000b" stroke="#7a0000" stroke-width="0.35"/>
<path d="M460.4 221.4L465.2 221.4L462.8 225.8Z" fill="#e8000b" stroke="#7a0000" stroke-width="0.35"/>
<path d="M460.4 231.9L465.2 231.9L462.8 236.3Z" fill="#e8000b" stroke="#7a0000" stroke-width="0.35"/>
<path d="M479.8 188.7L484.6 188.7L482.2 193.1Z" fill="#e8000b" stroke="#7a0000" stroke-width="0.35"/>
<path d="M479.8 198.9L484.6 198.9L482.2 203.3Z" fill="#e8000b" stroke="#7a0000" stroke-width="0.35"/>
<path d="M479.8 221L484.6 221L482.2 225.4Z" fill="#e8000b" stroke="#7a0000" stroke-width="0.35"/>
<path d="M499.7 207.7L504.5 207.7L502.1 212.1Z" fill="#e8000b" stroke="#7a0000" stroke-width="0.35"/>
<path d="M499.7 227.2L504.5 227.2L502.1 231.6Z" fill="#e8000b" stroke="#7a0000" stroke-width="0.35"/>
<path d="M499.7 233.7L504.5 233.7L502.1 238.1Z" fill="#e8000b" stroke="#7a0000" stroke-width="0.35"/>
<path d="M519.3 228.8L524.1 228.8L521.7 233.2Z" fill="#e8000b" stroke="#7a0000" stroke-width="0.35"/>
<path d="M513.1 236.7L517.9 236.7L515.5 241.1Z" fill="#e8000b" stroke="#7a0000" stroke-width="0.35"/>
<path d="M525.3 234.4L530.1 234.4L527.7 238.8Z" fill="#e8000b" stroke="#7a0000" stroke-width="0.35"/>
<path d="M425.4 183.3V296.5H540.6" stroke="#000" stroke-width="1.4" fill="none"/>
<path d="M422.9 296.5H425.4" stroke="#000" stroke-width="1"/>
<text transform="translate(421.7 300.1) scale(1 1.22)" text-anchor="end" font-size="9.2" fill="#222">0</text>
<path d="M422.9 268.2H425.4" stroke="#000" stroke-width="1"/>
<text transform="translate(421.7 271.8) scale(1 1.22)" text-anchor="end" font-size="9.2" fill="#222">50</text>
<path d="M422.9 239.9H425.4" stroke="#000" stroke-width="1"/>
<text transform="translate(421.7 243.5) scale(1 1.22)" text-anchor="end" font-size="9.2" fill="#222">100</text>
<path d="M422.9 211.6H425.4" stroke="#000" stroke-width="1"/>
<text transform="translate(421.7 215.2) scale(1 1.22)" text-anchor="end" font-size="9.2" fill="#222">150</text>
<path d="M422.9 183.3H425.4" stroke="#000" stroke-width="1"/>
<text transform="translate(421.7 186.9) scale(1 1.22)" text-anchor="end" font-size="9.2" fill="#222">200</text>
<path d="M442.6 296.5V299" stroke="#000" stroke-width="1"/>
<text transform="translate(442.6 308.9) scale(1 1.22)" text-anchor="middle" font-size="9.2" fill="#222">0</text>
<path d="M462.7 296.5V299" stroke="#000" stroke-width="1"/>
<text transform="translate(462.7 308.9) scale(1 1.22)" text-anchor="middle" font-size="9.2" fill="#222">6</text>
<path d="M482.4 296.5V299" stroke="#000" stroke-width="1"/>
<text transform="translate(482.4 308.9) scale(1 1.22)" text-anchor="middle" font-size="9.2" fill="#222">12</text>
<path d="M502.3 296.5V299" stroke="#000" stroke-width="1"/>
<text transform="translate(502.3 308.9) scale(1 1.22)" text-anchor="middle" font-size="9.2" fill="#222">24</text>
<path d="M521.7 296.5V299" stroke="#000" stroke-width="1"/>
<text transform="translate(521.7 308.9) scale(1 1.22)" text-anchor="middle" font-size="9.2" fill="#222">48</text>
<text transform="translate(402.4 238.3) rotate(-90)" text-anchor="middle" font-size="9.4" fill="#444">p21 level (%)</text>
<text transform="translate(375.9 176) scale(1.1 1.03)" font-size="10" font-weight="bold" fill="#000">F</text>
<text transform="translate(442.8 231.8) scale(1 1.15)" text-anchor="middle" font-size="8.6" font-weight="bold" fill="#000" stroke="#000" stroke-width="0.45">#</text>
<text x="482.17" y="186.5" text-anchor="middle" font-size="11.5" font-weight="bold" letter-spacing="0.55" fill="#000">*</text>
</svg>
</body></html>
